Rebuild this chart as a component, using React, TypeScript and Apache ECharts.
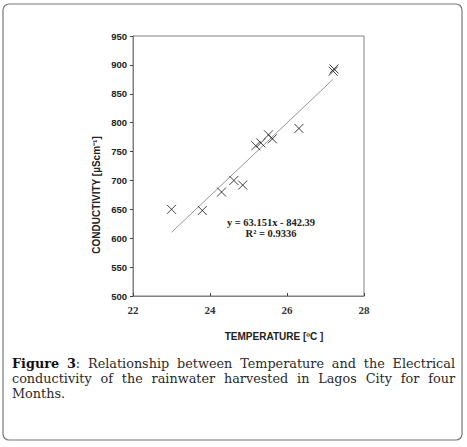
import React, { useEffect, useRef } from "react";
import * as echarts from "echarts";

// ---- data ----
const temperature = [23.0, 23.8, 24.3, 24.62, 24.85, 25.19, 25.32, 25.52, 25.62, 26.31, 27.2, 27.22];
const conductivity = [650, 648, 680, 700, 692, 760, 765, 779, 772, 790, 889, 893];
const trendTemperature = [23.0, 27.2];
const trendConductivity = [610.1, 875.3];
const xRange = [22, 28];
const xStep = 2;
const yRange = [500, 950];
const yStep = 50;
const xTitle = "TEMPERATURE [ºC ]";
const yTitle = "CONDUCTIVITY [µScm⁻¹]";
const equationLines = ["y = 63.151x - 842.39", "R² = 0.9336"];
const captionLines: { t: string; bold?: boolean }[][][] = [
  [
    [{ t: "Figure", bold: true }],
    [{ t: "3", bold: true }, { t: ":" }],
    [{ t: "Relationship" }],
    [{ t: "between" }],
    [{ t: "Temperature" }],
    [{ t: "and" }],
    [{ t: "the" }],
    [{ t: "Electrical" }],
  ],
  [
    [{ t: "conductivity" }],
    [{ t: "of" }],
    [{ t: "the" }],
    [{ t: "rainwater" }],
    [{ t: "harvested" }],
    [{ t: "in" }],
    [{ t: "Lagos" }],
    [{ t: "City" }],
    [{ t: "for" }],
    [{ t: "four" }],
  ],
  [[{ t: "Months." }]],
];

const CAPTION_FONT = "DejaVu Serif";
const CAPTION_SIZE = 12.8;

function buildCaption(): any[] {
  const canvas = document.createElement("canvas");
  const ctx = canvas.getContext("2d")!;
  const fontOf = (bold?: boolean) =>
    `${bold ? "bold " : ""}${CAPTION_SIZE}px "${CAPTION_FONT}"`;
  const measure = (t: string, bold?: boolean) => {
    ctx.font = fontOf(bold);
    return ctx.measureText(t).width;
  };
  const left = 12;
  const right = 455;
  const lineYs = [363, 378, 393];
  const els: any[] = [];
  captionLines.forEach((words, li) => {
    const widths = words.map((w) => w.reduce((s, seg) => s + measure(seg.t, seg.bold), 0));
    const total = widths.reduce((a, b) => a + b, 0);
    const justify = li < captionLines.length - 1 && words.length > 1;
    const gap = justify
      ? Math.max(2, (right - left - total) / (words.length - 1))
      : measure(" ");
    let x = left;
    words.forEach((w, wi) => {
      let sx = x;
      w.forEach((seg) => {
        els.push({
          type: "text",
          x: sx,
          y: lineYs[li],
          style: {
            text: seg.t,
            fontFamily: CAPTION_FONT,
            fontSize: CAPTION_SIZE,
            fontWeight: seg.bold ? "bold" : "normal",
            fill: seg.bold ? "#111" : "#2a2a2a",
            align: "left",
            verticalAlign: "middle",
          },
        });
        sx += measure(seg.t, seg.bold);
      });
      x += widths[wi] + gap;
    });
  });
  return els;
}

export default function App() {
  const ref = useRef<HTMLDivElement>(null);
  useEffect(() => {
    if (!ref.current) return;
    const chart = echarts.init(ref.current, undefined, { renderer: "svg" });
    const axisColor = "#808080";
    chart.setOption({
      animation: false,
      backgroundColor: "#fff",
      grid: {
        left: 133,
        top: 36,
        width: 231,
        height: 260,
        show: true,
        borderColor: axisColor,
        borderWidth: 1,
      },
      xAxis: {
        type: "value",
        min: xRange[0],
        max: xRange[1],
        interval: xStep,
        axisLine: { show: true, lineStyle: { color: axisColor, width: 1 } },
        axisTick: { show: true, inside: true, length: 3, lineStyle: { color: "#444" } },
        axisLabel: {
          fontFamily: "Liberation Serif",
          fontWeight: "bold",
          fontSize: 11,
          color: "#333",
          margin: 8,
        },
        splitLine: { show: false },
      },
      yAxis: {
        type: "value",
        min: yRange[0],
        max: yRange[1],
        interval: yStep,
        axisLine: { show: true, lineStyle: { color: axisColor, width: 1 } },
        axisTick: { show: true, inside: false, length: 3, lineStyle: { color: "#444" } },
        axisLabel: {
          fontFamily: "Liberation Sans",
          fontWeight: "bold",
          fontSize: 9.5,
          color: "#222",
          margin: 6,
        },
        splitLine: { show: false },
      },
      series: [
        {
          type: "line",
          data: trendTemperature.map((x, i) => [x, trendConductivity[i]]),
          showSymbol: false,
          symbol: "none",
          lineStyle: { color: "#8a8a8a", width: 0.9 },
          silent: true,
          z: 1,
        },
        {
          type: "scatter",
          data: temperature.map((x, i) => [x, conductivity[i]]),
          symbol: "path://M0,0L10,10M10,0L0,10",
          symbolSize: 9,
          itemStyle: { color: "rgba(0,0,0,0)", borderColor: "#111", borderWidth: 1 },
          z: 2,
        },
      ],
      graphic: [
        {
          type: "rect",
          shape: { x: 3, y: 4, width: 459, height: 436, r: 6 },
          style: { fill: "none", stroke: "#777", lineWidth: 1.2 },
          silent: true,
        },
        {
          type: "text",
          x: 274,
          y: 336,
          style: {
            text: xTitle,
            fontFamily: "Liberation Sans",
            fontWeight: "bold",
            fontSize: 10,
            fill: "#222",
            align: "center",
            verticalAlign: "middle",
          },
        },
        {
          type: "text",
          x: 96,
          y: 195,
          rotation: Math.PI / 2,
          style: {
            text: yTitle,
            fontFamily: "Liberation Sans",
            fontWeight: "bold",
            fontSize: 10,
            fill: "#222",
            align: "center",
            verticalAlign: "middle",
          },
        },
        ...equationLines.map((t, i) => ({
          type: "text",
          x: 271,
          y: 222 + i * 11,
          style: {
            text: t,
            fontFamily: "Liberation Serif",
            fontWeight: "bold",
            fontSize: 10.5,
            fill: "#222",
            align: "center",
            verticalAlign: "middle",
          },
        })),
        ...buildCaption(),
      ],
    });
    return () => chart.dispose();
  }, []);
  return (
    <div
      ref={ref}
      style={{ position: "fixed", left: 0, top: 0, width: 467, height: 447, background: "#fff" }}
    />
  );
}
